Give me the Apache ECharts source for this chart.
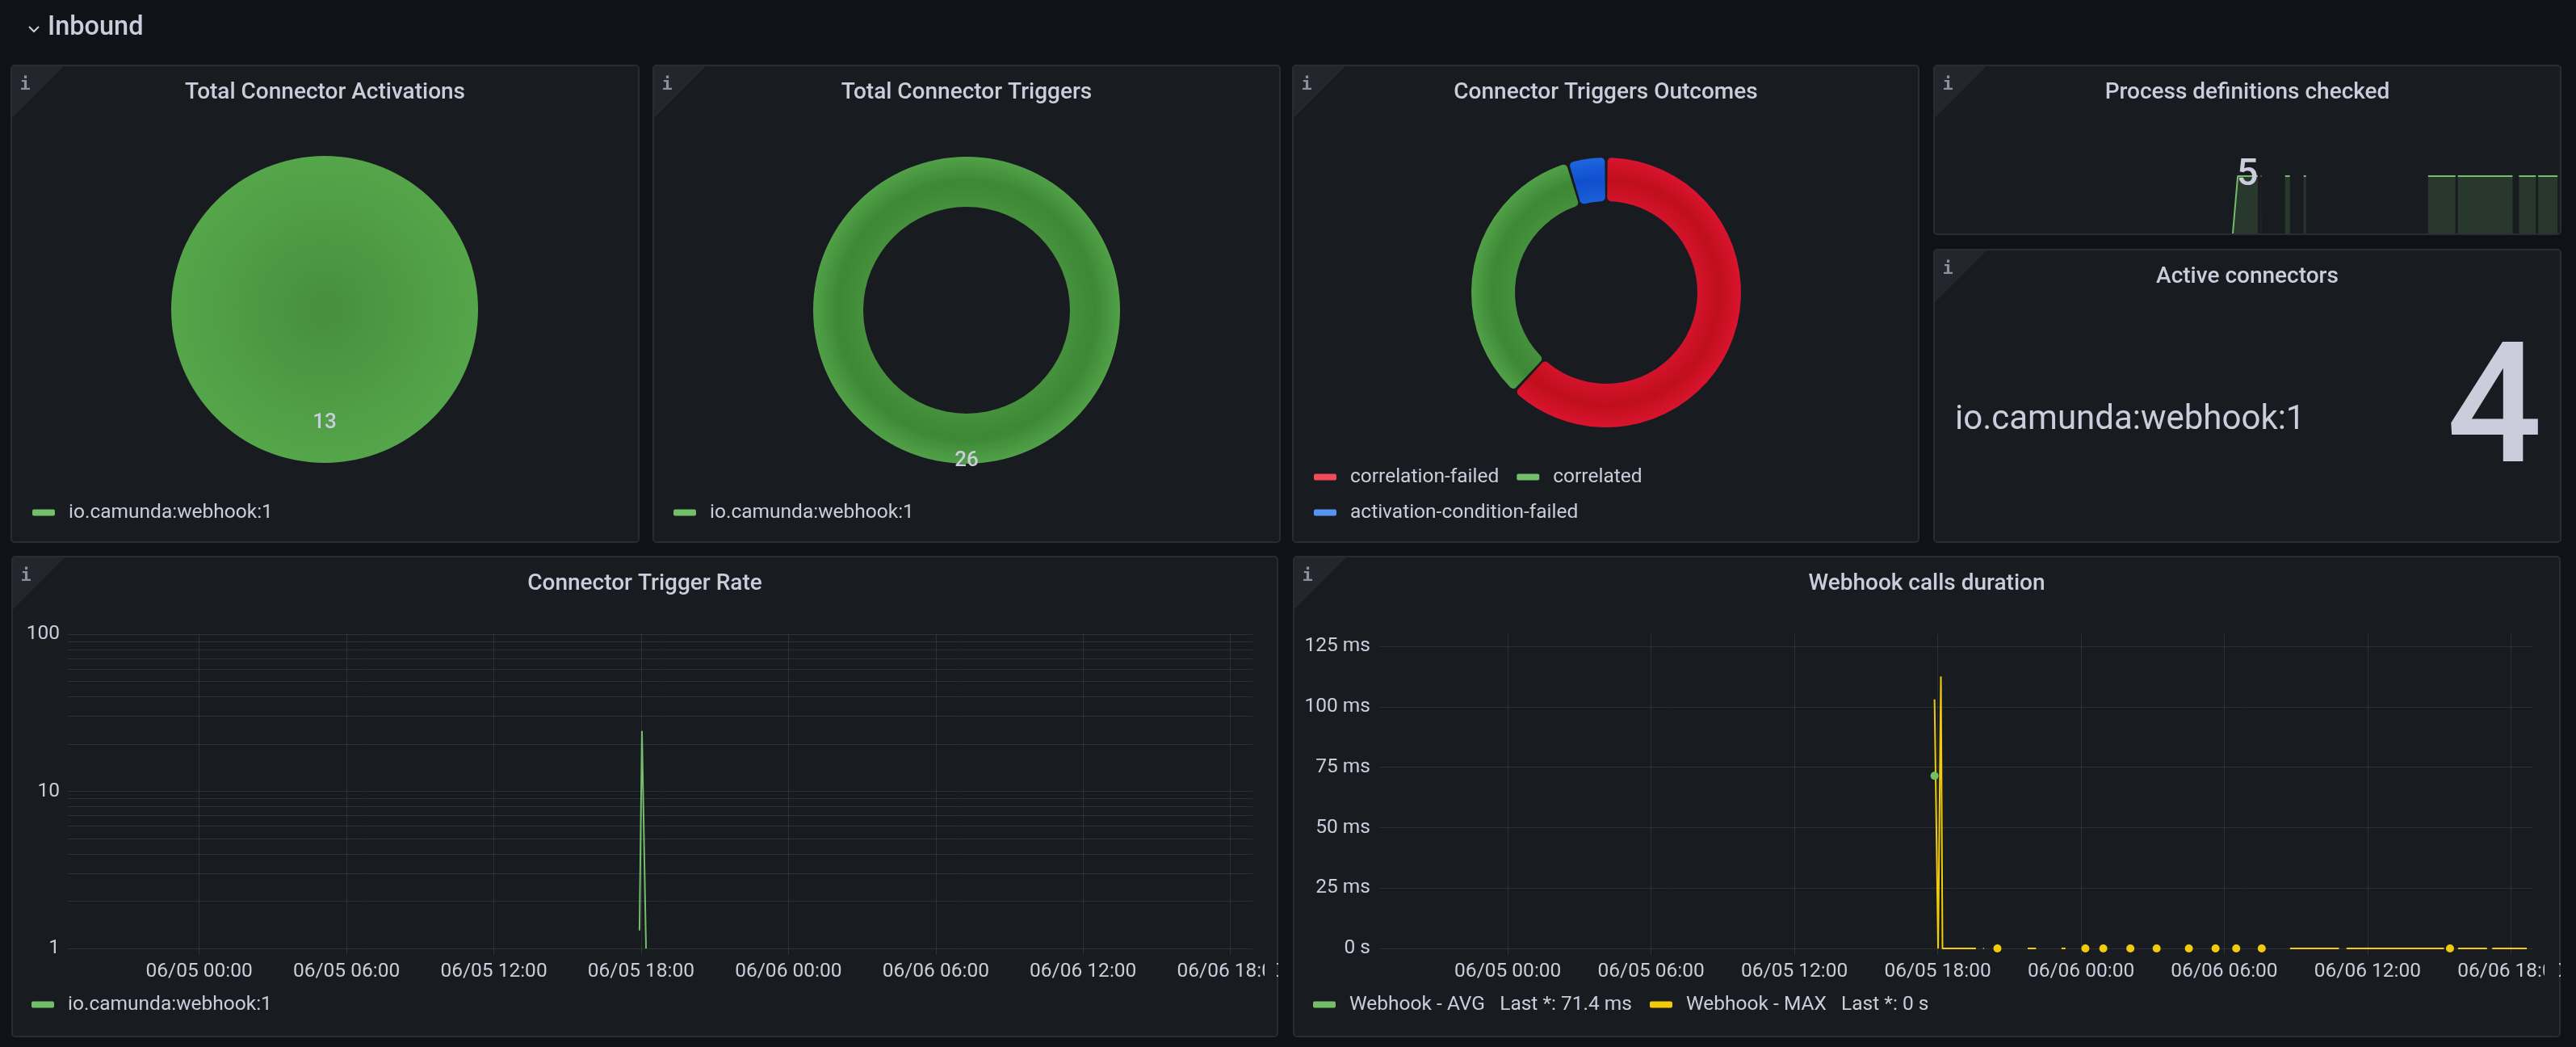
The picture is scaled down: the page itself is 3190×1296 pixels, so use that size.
<!DOCTYPE html>
<html>
<head>
<meta charset="utf-8">
<script src="https://cdn.jsdelivr.net/npm/echarts@6/dist/echarts.min.js"></script>
<style>
html,body{margin:0;padding:0;background:#111217;overflow:hidden;}
#c{width:3190px;height:1296px;}
</style>
</head>
<body>
<div id="c"></div>
<script>
// ---------------- DATA ----------------
const activationNames = ['io.camunda:webhook:1'];
const activationValues = [13];

const triggerNames = ['io.camunda:webhook:1'];
const triggerValues = [26];

const outcomeNames = ['correlation-failed', 'correlated', 'activation-condition-failed'];
const outcomeValues = [16.1, 8.7, 1.2];

const processDefTimes = ['06/05 17:39','06/05 18:02','06/05 19:35','06/05 19:42','06/05 19:49','06/05 19:52','06/05 20:45','06/05 21:42','06/05 22:04','06/05 22:35','06/05 23:08','06/05 23:19','06/06 04:00','06/06 08:46','06/06 10:53','06/06 10:58','06/06 11:04','06/06 15:18','06/06 15:33','06/06 15:48','06/06 17:06','06/06 17:11','06/06 17:17','06/06 18:47'];
const processDefValues = [0,5,5,null,5,5,null,5,5,null,5,5,null,5,5,null,5,5,null,5,5,null,5,5];

const activeConnectorNames = ['io.camunda:webhook:1'];
const activeConnectorValues = [4];

const rateSeriesName = 'io.camunda:webhook:1';
const rateTimes = ['06/05 17:56','06/05 18:02','06/05 18:12'];
const rateValues = [1.3, 24.2, 1.0];

const avgSeriesName = 'Webhook - AVG';
const avgTimes = ['06/05 17:52'];
const avgValues = [71.4];

const maxSeriesName = 'Webhook - MAX';
const maxTimes = ['06/05 17:52','06/05 18:01','06/05 18:08','06/05 18:12','06/05 19:36','06/05 19:45','06/05 19:54','06/05 19:56','06/05 20:13','06/05 20:30','06/05 21:08','06/05 21:46','06/05 22:07','06/05 22:40','06/05 23:11','06/05 23:21','06/05 23:45','06/06 00:11','06/06 00:33','06/06 00:56','06/06 01:30','06/06 02:04','06/06 02:37','06/06 03:10','06/06 03:50','06/06 04:31','06/06 05:05','06/06 05:38','06/06 06:04','06/06 06:30','06/06 07:02','06/06 07:34','06/06 08:10','06/06 08:45','06/06 10:48','06/06 10:57','06/06 11:07','06/06 15:12','06/06 15:20','06/06 15:27','06/06 15:37','06/06 15:47','06/06 17:00','06/06 17:06','06/06 17:13','06/06 18:40'];
const maxValues = [103,0,112.5,0,0,null,0,0,null,0,null,0,0,null,0,0,null,0,null,0,null,0,null,0,null,0,null,0,null,0,null,0,null,0,0,null,0,0,null,0,null,0,0,null,0,0];

const timeRange = ['06/04 18:39','06/06 18:54'];
const timeTickLabels = ['06/05 00:00','06/05 06:00','06/05 12:00','06/05 18:00','06/06 00:00','06/06 06:00','06/06 12:00','06/06 18:00'];
const rateYTicks = [1, 10, 100];
const rateMinorTicks = [2,3,4,5,6,7,8,9,20,30,40,50,60,70,80,90];
const durationYTicks = [0, 25, 50, 75, 100, 125];
const durationYMax = 130;

// ---------------- HELPERS ----------------
function t(s){
  const parts = s.split(' ');
  const md = parts[0].split('/').map(Number);
  const hm = parts[1].split(':').map(Number);
  return new Date(2023, md[0]-1, md[1], hm[0], hm[1]).getTime();
}
function pad2(n){ return (n<10?'0':'')+n; }
function fmtTime(v){
  const d = new Date(v);
  return pad2(d.getMonth()+1)+'/'+pad2(d.getDate())+' '+pad2(d.getHours())+':'+pad2(d.getMinutes());
}
function fmtMs(v){ return v === 0 ? '0 s' : (v + ' ms'); }
function lastNonNull(arr){ for (let i=arr.length-1;i>=0;i--) if (arr[i]!==null) return arr[i]; return null; }
function seriesData(times, values, dotSize){
  return times.map(function(s,i){
    const v = values[i];
    const prev = i>0 ? values[i-1] : null;
    const next = i<values.length-1 ? values[i+1] : null;
    const item = { value: [t(s), v===null ? '-' : v] };
    if (dotSize && v!==null && prev===null && next===null){ item.symbol='circle'; item.symbolSize=dotSize; }
    return item;
  });
}

// ---------------- STYLE / LAYOUT ----------------
const FONT = 'Roboto';
const TXT = '#ccccdc';
const PAGE_BG = '#111217';
const PANEL_BG = '#181b1f';
const PANEL_BORDER = '#2a2c31';
const GRID = 'rgba(204,204,220,0.12)';
const GREEN = '#73bf69', RED = '#f2495c', BLUE = '#5794f2', YELLOW = '#f2cc0c';
const SMALL = 24.5, TITLE = 28;

const panels = [
  {x:14,  y:81,  w:777,  h:590, title:'Total Connector Activations'},
  {x:809, y:81,  w:776,  h:590, title:'Total Connector Triggers'},
  {x:1601,y:81,  w:775,  h:590, title:'Connector Triggers Outcomes'},
  {x:2395,y:81,  w:776,  h:209, title:'Process definitions checked'},
  {x:2395,y:309, w:776,  h:362, title:'Active connectors'},
  {x:15,  y:689, w:1567, h:594, title:'Connector Trigger Rate', clipX:1566},
  {x:1602,y:689, w:1568, h:594, title:'Webhook calls duration', clipX:3151}
];

const P1 = {cx:402, cy:383, r:190};
const P2 = {cx:1197, cy:384, r:190, r0:128};
const P3 = {cx:1989, cy:362, r:167, r0:113};

function radial(c, stops){
  return {type:'radial', x:c.cx, y:c.cy, r:c.r, global:true,
    colorStops: stops.map(function(s){ return {offset:s[0], color:s[1]}; })};
}
const ringGreen = function(c){ return radial(c, [[0,'#46913d'],[c.r0/c.r,'#46913d'],[(1+c.r0/c.r)/2,'#3d8735'],[1,'#51a148']]); };
const ringRed = function(c){ return radial(c, [[0,'#d3132c'],[c.r0/c.r,'#d3132c'],[(1+c.r0/c.r)/2,'#c00f1b'],[1,'#d9142f']]); };
const ringBlue = function(c){ return radial(c, [[0,'#1a5fd8'],[c.r0/c.r,'#1a5fd8'],[(1+c.r0/c.r)/2,'#104fcf'],[1,'#1d66de']]); };
const outcomeFills = [ringRed(P3), ringGreen(P3), ringBlue(P3)];
const outcomeLegendColors = [RED, GREEN, BLUE];

// ---------------- GRAPHIC ----------------
const graphics = [];
graphics.push({type:'polyline', z:5, shape:{points:[[36,33],[42,39],[48,33]]}, style:{stroke:TXT, lineWidth:2, fill:null}});
graphics.push({type:'text', z:5, style:{text:'Inbound', x:59, y:35, fill:TXT, fontSize:32.5, fontWeight:500, fontFamily:FONT, align:'left', verticalAlign:'middle'}});
panels.forEach(function(p){
  graphics.push({type:'rect', z:-10, shape:{x:p.x, y:p.y, width:p.w, height:p.h, r:4}, style:{fill:PANEL_BG, stroke:PANEL_BORDER, lineWidth:2}});
  graphics.push({type:'polygon', z:-9, shape:{points:[[p.x+1,p.y+1],[p.x+65,p.y+1],[p.x+1,p.y+65]]}, style:{fill:'#23262c'}});
  graphics.push({type:'text', z:5, style:{text:'i', x:p.x+17, y:p.y+24, fill:'#8e8f9a', fontSize:22, fontWeight:'bold', fontFamily:'DejaVu Sans Mono', align:'center', verticalAlign:'middle'}});
  graphics.push({type:'text', z:5, style:{text:p.title, x:p.x+p.w/2, y:p.y+34, fill:TXT, fontSize:TITLE, fontWeight:500, fontFamily:FONT, align:'center', verticalAlign:'middle'}});
  if (p.clipX){
    // the source cuts the last time label at the plot edge
    graphics.push({type:'rect', z:20, shape:{x:p.clipX, y:1186, width:p.x+p.w-1-p.clipX, height:36}, style:{fill:PANEL_BG}});
    graphics.push({type:'rect', z:20, shape:{x:p.x+p.w+1, y:1186, width:18, height:36}, style:{fill:PAGE_BG}});
  }
});
graphics.push({type:'text', z:6, style:{text:String(lastNonNull(processDefValues)), x:panels[3].x+panels[3].w/2, y:217, fill:TXT, fontSize:47, fontWeight:500, fontFamily:FONT, align:'center', verticalAlign:'middle'}});
graphics.push({type:'text', z:6, style:{text:activeConnectorNames[0], x:2421, y:520, fill:TXT, fontSize:42, fontWeight:400, fontFamily:FONT, align:'left', verticalAlign:'middle'}});
graphics.push({type:'text', z:6, style:{text:String(activeConnectorValues[0]), x:3148, y:519, fill:TXT, fontSize:208, fontWeight:500, fontFamily:FONT, align:'right', verticalAlign:'middle'}});

// ---------------- AXES ----------------
const xMin = t(timeRange[0]), xMax = t(timeRange[1]);
const tickValues = timeTickLabels.map(t);

function timeAxis(gridIndex){
  return {
    type:'value', gridIndex:gridIndex, min:xMin, max:xMax, scale:true,
    axisLine:{show:false},
    axisTick:{show:true, length:8, lineStyle:{color:GRID, width:1}, customValues:tickValues},
    axisLabel:{show:true, customValues:tickValues, formatter:function(v){ return fmtTime(v); }, color:TXT, fontSize:SMALL, fontFamily:FONT, margin:16, showMinLabel:true, showMaxLabel:true},
    splitLine:{show:true, lineStyle:{color:GRID, width:1}}
  };
}

const legendBase = {
  orient:'horizontal', padding:0, itemWidth:28, itemHeight:8, icon:'roundRect', itemGap:22,
  selectedMode:false, textStyle:{color:TXT, fontSize:SMALL, fontFamily:FONT, padding:[0,0,0,12]}
};
function legend(extra){ return Object.assign({}, legendBase, extra); }

const lastText = {};
lastText[avgSeriesName] = fmtMs(lastNonNull(avgValues));
lastText[maxSeriesName] = fmtMs(lastNonNull(maxValues));

const option = {
  backgroundColor:PAGE_BG,
  animation:false,
  textStyle:{fontFamily:FONT},
  graphic:{elements:graphics},
  grid:[
    {left:2397, top:218, width:772, height:71, outerBoundsMode:'none'},
    {left:84, top:785, width:1467, height:389, outerBoundsMode:'none'},
    {left:1709, top:785, width:1427, height:389, outerBoundsMode:'none'}
  ],
  xAxis:[
    {type:'value', gridIndex:0, min:xMin, max:xMax, scale:true, show:false},
    timeAxis(1),
    timeAxis(2)
  ],
  yAxis:[
    {type:'value', gridIndex:0, min:0, max:5, show:false},
    {type:'log', gridIndex:1, logBase:10, min:rateYTicks[0], max:rateYTicks[rateYTicks.length-1],
      axisLine:{show:false}, axisTick:{show:false},
      axisLabel:{color:TXT, fontSize:SMALL, fontFamily:FONT, margin:10, formatter:function(v){ return String(v); }},
      splitLine:{show:true, lineStyle:{color:GRID, width:1}}},
    {type:'value', gridIndex:2, min:durationYTicks[0], max:durationYMax, interval:durationYTicks[1]-durationYTicks[0],
      axisLine:{show:false}, axisTick:{show:false},
      axisLabel:{color:TXT, fontSize:SMALL, fontFamily:FONT, margin:12, showMaxLabel:false, formatter:function(v){ return durationYTicks.indexOf(v)>=0 ? fmtMs(v) : ''; }},
      splitLine:{show:true, showMaxLine:false, lineStyle:{color:GRID, width:1}}}
  ],
  legend:[
    legend({left:40, top:622, data:[{name:activationNames[0], itemStyle:{color:GREEN}}]}),
    legend({left:834, top:622, data:[{name:triggerNames[0], itemStyle:{color:GREEN}}]}),
    legend({left:1627, top:578, data:[{name:outcomeNames[0], itemStyle:{color:outcomeLegendColors[0]}},{name:outcomeNames[1], itemStyle:{color:outcomeLegendColors[1]}}]}),
    legend({left:1627, top:622, data:[{name:outcomeNames[2], itemStyle:{color:outcomeLegendColors[2]}}]}),
    legend({left:39, top:1231, data:[{name:rateSeriesName, itemStyle:{color:GREEN}}]}),
    legend({left:1626, top:1231, data:[{name:avgSeriesName, itemStyle:{color:GREEN}},{name:maxSeriesName, itemStyle:{color:YELLOW}}],
      formatter:function(name){ return name + '   Last *: ' + lastText[name]; }})
  ],
  series:[
    {type:'pie', name:'activations', center:[P1.cx,P1.cy], radius:[0,P1.r], startAngle:90, silent:true,
      emphasis:{disabled:true},
      label:{show:true, position:'inside', formatter:'{c}', color:TXT, fontSize:26, fontWeight:500, fontFamily:FONT},
      labelLine:{show:false}, labelLayout:{dy:42},
      itemStyle:{borderWidth:0},
      data: activationNames.map(function(n,i){ return {name:n, value:activationValues[i], itemStyle:{color:radial(P1,[[0,'#468f3d'],[1,'#55a54a']])}}; })},
    {type:'pie', name:'triggers', center:[P2.cx,P2.cy], radius:[P2.r0,P2.r], startAngle:90, silent:true,
      emphasis:{disabled:true},
      label:{show:true, position:'inside', formatter:'{c}', color:TXT, fontSize:26, fontWeight:500, fontFamily:FONT},
      labelLine:{show:false}, labelLayout:{dy:24},
      itemStyle:{borderWidth:0},
      data: triggerNames.map(function(n,i){ return {name:n, value:triggerValues[i], itemStyle:{color:ringGreen(P2)}}; })},
    {type:'pie', name:'outcomes', center:[P3.cx,P3.cy], radius:[P3.r0,P3.r], startAngle:90, clockwise:true, silent:true,
      padAngle:1.2, emphasis:{disabled:true},
      label:{show:false}, labelLine:{show:false},
      itemStyle:{borderWidth:0, borderRadius:5},
      data: outcomeNames.map(function(n,i){ return {name:n, value:outcomeValues[i], itemStyle:{color:outcomeFills[i]}}; })},
    {type:'line', name:'process definitions', xAxisIndex:0, yAxisIndex:0, silent:true, symbol:'none', connectNulls:false,
      lineStyle:{color:GREEN, width:2}, itemStyle:{color:GREEN},
      areaStyle:{color:GREEN, opacity:0.18},
      data: seriesData(processDefTimes, processDefValues, 0)},
    {type:'line', name:rateSeriesName, xAxisIndex:1, yAxisIndex:1, silent:true, symbol:'none', connectNulls:false,
      lineStyle:{color:GREEN, width:2}, itemStyle:{color:GREEN},
      data: seriesData(rateTimes, rateValues, 0),
      markLine:{silent:true, symbol:['none','none'], label:{show:false}, animation:false,
        lineStyle:{color:GRID, width:1, type:'solid'}, emphasis:{disabled:true},
        data: rateMinorTicks.map(function(v){ return {yAxis:v}; })}},
    {type:'line', name:avgSeriesName, xAxisIndex:2, yAxisIndex:2, silent:true, symbol:'none', showSymbol:true, showAllSymbol:true, connectNulls:false,
      lineStyle:{color:GREEN, width:2}, itemStyle:{color:GREEN, borderWidth:0},
      data: seriesData(avgTimes, avgValues, 10)},
    {type:'line', name:maxSeriesName, xAxisIndex:2, yAxisIndex:2, silent:true, symbol:'none', showSymbol:true, showAllSymbol:true, connectNulls:false,
      lineStyle:{color:YELLOW, width:2}, itemStyle:{color:YELLOW, borderWidth:0},
      data: seriesData(maxTimes, maxValues, 10)}
  ]
};

const chart = echarts.init(document.getElementById('c'), null, {renderer:'canvas', width:3190, height:1296});
chart.setOption(option);
</script>
</body>
</html>
